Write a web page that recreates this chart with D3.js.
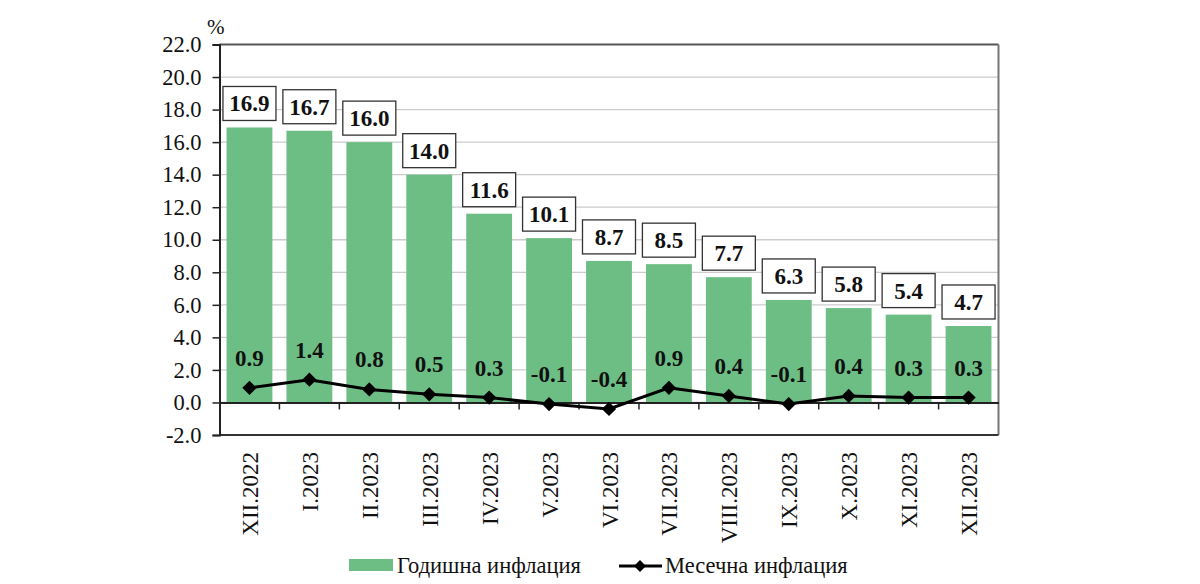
<!DOCTYPE html>
<html><head><meta charset="utf-8">
<script src="https://cdn.jsdelivr.net/npm/d3@7"></script>
<style>body{margin:0;background:#fff}svg{display:block}</style>
</head><body>
<svg id="c" width="1200" height="584"></svg>
<script>
const categories = ["XII.2022","I.2023","II.2023","III.2023","IV.2023","V.2023","VI.2023","VII.2023","VIII.2023","IX.2023","X.2023","XI.2023","XII.2023"];
const annual = [16.9,16.7,16.0,14.0,11.6,10.1,8.7,8.5,7.7,6.3,5.8,5.4,4.7];
const monthly = [0.9,1.4,0.8,0.5,0.3,-0.1,-0.4,0.9,0.4,-0.1,0.4,0.3,0.3];
const yTicks = [-2,0,2,4,6,8,10,12,14,16,18,20,22];
const seriesNames = ["Годишна инфлация","Месечна инфлация"];

const FF = '"Liberation Serif", "Times New Roman", serif';
const fmt = d => d.toFixed(1);
const svg = d3.select("#c");
const L = 219.5, R = 998.5, T = 44.5, B = 435;
const x = d3.scaleBand().domain(categories).range([L, R]).paddingInner(0.235).paddingOuter(0.1175);
const xb = d3.scaleBand().domain(categories).range([L, R]);
const y = d3.scaleLinear().domain([-2, 22]).range([B, T]);
const green = "#6dbe85";

// gridlines
svg.append("g").selectAll("line").data(yTicks.filter(d => d > -2 && d < 22)).join("line")
  .attr("x1", L).attr("x2", R).attr("y1", d => y(d)).attr("y2", d => y(d))
  .attr("stroke", "#cbcbcb").attr("stroke-width", 1.3);

// bars
svg.append("g").selectAll("rect").data(annual).join("rect")
  .attr("x", (d, i) => x(categories[i])).attr("width", x.bandwidth())
  .attr("y", d => y(d)).attr("height", d => y(0) - y(d)).attr("fill", green);

// plot border
svg.append("line").attr("x1", L).attr("x2", R).attr("y1", T).attr("y2", T).attr("stroke", "#555").attr("stroke-width", 2);
svg.append("line").attr("x1", R).attr("x2", R).attr("y1", T).attr("y2", B).attr("stroke", "#777").attr("stroke-width", 2);
svg.append("line").attr("x1", L).attr("x2", R).attr("y1", B).attr("y2", B).attr("stroke", "#333").attr("stroke-width", 2);

// y axis
const yAxis = svg.append("g").attr("transform", `translate(${L},0)`)
  .call(d3.axisLeft(y).tickValues(yTicks).tickFormat(fmt).tickSize(7).tickPadding(14));
yAxis.select(".domain").attr("stroke", "#222").attr("stroke-width", 2);
yAxis.selectAll(".tick line").attr("stroke", "#222").attr("stroke-width", 1.5);
yAxis.selectAll("text").style("font-family", FF).style("font-size", "22.5px").attr("fill", "#111").attr("dx", 3);

// x axis at zero
const xAxis = svg.append("g").attr("transform", `translate(0,${y(0)})`)
  .call(d3.axisBottom(xb).tickSize(0).tickFormat(""));
xAxis.select(".domain").attr("stroke", "#222").attr("stroke-width", 2);
svg.append("g").selectAll("line").data(categories.slice(1)).join("line")
  .attr("x1", d => xb(d)).attr("x2", d => xb(d)).attr("y1", y(0)).attr("y2", y(0) + 7)
  .attr("stroke", "#222").attr("stroke-width", 1.5);

// category labels
svg.append("g").selectAll("text").data(categories).join("text")
  .attr("transform", d => `translate(${xb(d) + xb.bandwidth() / 2 + 8.5},452) rotate(-90)`)
  .attr("text-anchor", "end").style("font-family", FF).style("font-size", "23px").attr("fill", "#111")
  .text(d => d);

// annual labels in boxes
const lab = svg.append("g");
annual.forEach((v, i) => {
  const cx = x(categories[i]) + x.bandwidth() / 2;
  const by = y(v) - 7;
  lab.append("rect").attr("x", cx - 26.5).attr("y", by - 34).attr("width", 53).attr("height", 34)
    .attr("fill", "#fff").attr("stroke", "#333").attr("stroke-width", 1.3);
  lab.append("text").attr("x", cx).attr("y", by - 9).attr("text-anchor", "middle")
    .style("font-family", FF).style("font-weight", "bold").style("font-size", "23px").attr("fill", "#111")
    .text(fmt(v));
});

// monthly line
const cxf = (i) => x(categories[i]) + x.bandwidth() / 2;
svg.append("path").datum(monthly)
  .attr("d", d3.line().x((d, i) => cxf(i)).y(d => y(d)))
  .attr("fill", "none").attr("stroke", "#000").attr("stroke-width", 3);
svg.append("g").selectAll("path").data(monthly).join("path")
  .attr("transform", (d, i) => `translate(${cxf(i)},${y(d)})`)
  .attr("d", d3.symbol(d3.symbolDiamond2, 130)).attr("fill", "#000");
svg.append("g").selectAll("text").data(monthly).join("text")
  .attr("x", (d, i) => cxf(i)).attr("y", d => y(d) - 22).attr("text-anchor", "middle")
  .style("font-family", FF).style("font-weight", "bold").style("font-size", "23px").attr("fill", "#111")
  .text(d => fmt(d));

// % label
svg.append("text").attr("x", 207).attr("y", 34).style("font-family", FF).style("font-size", "21px").attr("fill", "#111").text("%");

// legend
const lg = svg.append("g");
lg.append("rect").attr("x", 349).attr("y", 559).attr("width", 44).attr("height", 12).attr("fill", green);
lg.append("text").attr("x", 397).attr("y", 573).style("font-family", FF).style("font-size", "22.5px").attr("fill", "#111").text(seriesNames[0]);
lg.append("line").attr("x1", 619).attr("x2", 662).attr("y1", 566).attr("y2", 566).attr("stroke", "#000").attr("stroke-width", 3);
lg.append("path").attr("transform", "translate(640,566)").attr("d", d3.symbol(d3.symbolDiamond2, 90)).attr("fill", "#000");
lg.append("text").attr("x", 665).attr("y", 573).style("font-family", FF).style("font-size", "22.5px").attr("fill", "#111").text(seriesNames[1]);
</script>
</body></html>
